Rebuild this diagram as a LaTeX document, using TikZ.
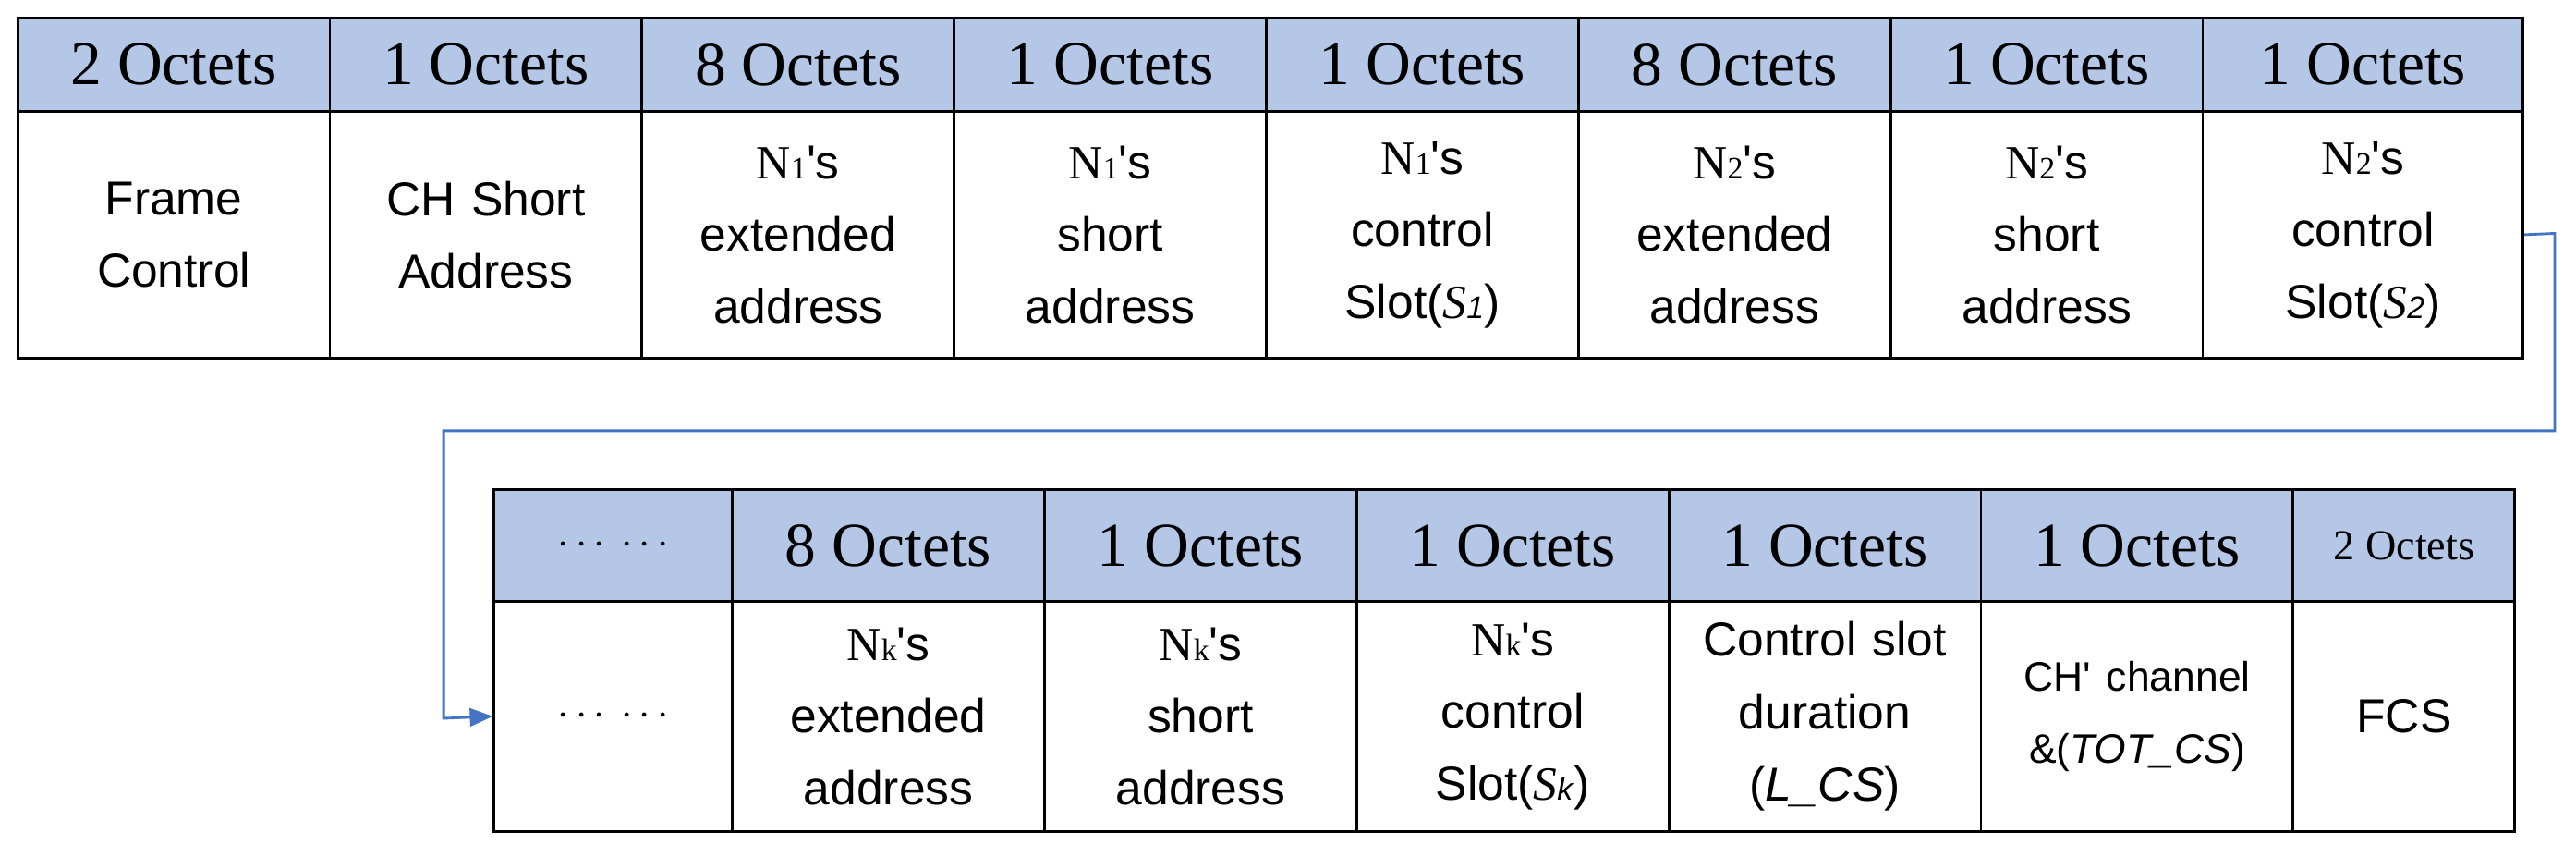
\documentclass[tikz,border=0pt]{standalone}
\usepackage{fontspec}
\setmainfont{Liberation Serif}
\newfontfamily\bodyf{Liberation Sans}
\usetikzlibrary{arrows.meta}
\definecolor{hdr}{RGB}{180,199,231}
\definecolor{arr}{RGB}{68,114,196}
\newcommand{\sbx}[1]{{\fontsize{19}{19}\selectfont #1}}
\newcommand{\nn}[1]{{\rmfamily N\sbx{#1}}}
\begin{document}
\begin{tikzpicture}[x=1pt,y=-1pt,
  hcell/.style={draw=black,line width=1.6pt,fill=hdr,minimum height=57pt,inner sep=0pt,anchor=north west,font=\fontsize{38}{40}\selectfont},
  bcell/.style={draw=black,line width=1.6pt,fill=white,minimum height=150pt,inner sep=0pt,anchor=north west,align=center,font=\bodyf\fontsize{29}{44}\selectfont},
  link/.style={draw=arr,line width=1.6pt}]
\useasboundingbox (0,0) rectangle (1568,521);
% top table
\foreach \i/\a/\b/\h/\t in {1/10/200/2 Octets/{Frame\\Control},
  2/200/390/1 Octets/{CH Short\\Address},
  3/390/580/8 Octets/{\nn{1}'s\\extended\\address},
  4/580/770/1 Octets/{\nn{1}'s\\short\\address},
  5/770/960/1 Octets/{\nn{1}'s\\control\\Slot(\textit{\rmfamily S}\sbx{\textit{1}})},
  6/960/1150/8 Octets/{\nn{2}'s\\extended\\address},
  7/1150/1340/1 Octets/{\nn{2}'s\\short\\address},
  8/1340/1535/1 Octets/{\nn{2}'s\\control\\Slot(\textit{\rmfamily S}\sbx{\textit{2}})}}{
  \pgfmathsetmacro\w{\b-\a}
  \node[hcell,minimum width=\w pt] (th\i) at (\a,10) {\h};
  \node[bcell,minimum width=\w pt,text width=\w pt] (tb\i) at (\a,67) {\t};
}
% bottom table
\foreach \i/\a/\b/\h/\t in {1/300/445/{$\cdots$ $\cdots$}/{$\cdots$ $\cdots$},
  2/445/635/8 Octets/{\nn{k}'s\\extended\\address},
  3/635/825/1 Octets/{\nn{k}'s\\short\\address},
  4/825/1015/1 Octets/{\nn{k}'s\\control\\Slot(\textit{\rmfamily S}\sbx{\textit{k}})},
  5/1015/1205/1 Octets/{Control slot\\duration\\(\textit{L\_CS})},
  6/1205/1395/1 Octets/{{\fontsize{25}{38}\selectfont CH' channel}\\{\fontsize{25}{38}\selectfont\&(\textit{TOT\_CS})}},
  7/1395/1530/{\fontsize{26}{28}\selectfont 2 Octets}/{FCS}}{
  \pgfmathsetmacro\w{\b-\a}
  \node[hcell,minimum width=\w pt,minimum height=68pt] (bh\i) at (\a,297) {\h};
  \node[bcell,minimum width=\w pt,text width=\w pt,minimum height=140pt] (bb\i) at (\a,365) {\t};
}
\coordinate (c1) at (1555,142);
\coordinate (c2) at (1555,262);
\coordinate (c3) at (270,262);
\coordinate (c4) at (270,437);
\draw[link,-{Triangle[length=14pt,width=11pt]}] (tb8.east) -- (c1) -- (c2) -- (c3) -- (c4) -- (bb1.west);
\end{tikzpicture}
\end{document}
